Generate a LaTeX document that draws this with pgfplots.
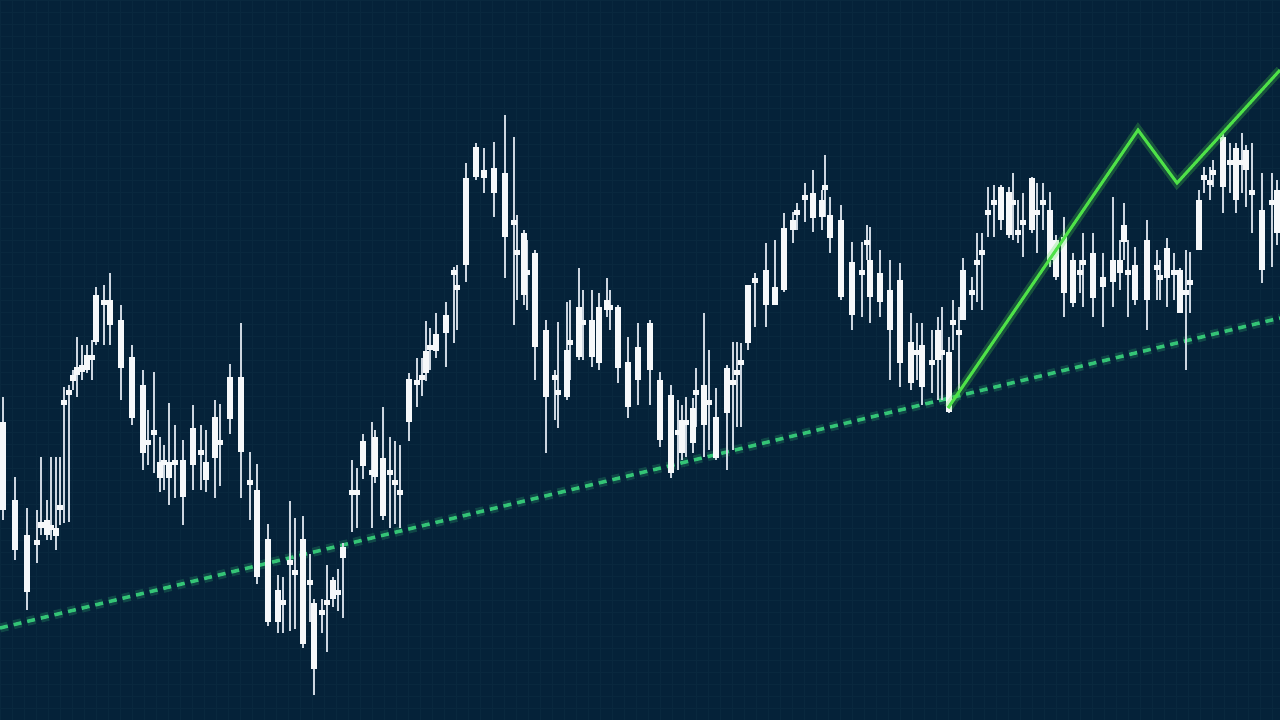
\documentclass[border=0pt]{standalone}
\usepackage{pgfplots}
\usepackage{pgfplotstable}
\pgfplotsset{compat=1.18}
\definecolor{bgcol}{RGB}{5,34,57}
\definecolor{gridcol}{RGB}{9,40,62}
\definecolor{wickcol}{RGB}{205,214,224}
\definecolor{bodycol}{RGB}{246,248,250}
\definecolor{trendcol}{RGB}{52,196,118}
\definecolor{zigcol}{RGB}{78,226,72}
% candles in pixel coordinates: x, wick top, wick bottom, body top, body bottom
\pgfplotstableread{
x hi lo bt bb
3 397 520 422 510
15 477 560 500 550
27 508 610 535 592
37 510 563 540 545
41 457 535 522 528
47 500 540 520 535
51 457 540 525 530
56 457 550 528 536
60 457 525 505 510
64 387 523 400 405
69 385 522 390 395
73 370 390 375 381
77 337 397 367 375
82 345 380 365 372
87 345 373 355 370
92 340 380 355 360
96 287 345 295 342
104 285 345 300 305
110 273 345 300 325
121 305 400 320 368
132 345 425 357 418
143 370 470 385 453
148 410 465 440 445
154 372 473 430 435
160 437 492 462 478
164 445 490 460 465
169 403 505 462 478
175 425 498 460 465
183 440 525 460 497
193 405 490 428 465
201 425 490 450 455
206 430 492 462 480
215 400 498 417 458
220 404 486 440 445
230 364 434 377 419
241 323 498 377 452
250 452 520 480 485
257 464 584 490 577
268 524 626 539 622
278 575 633 590 622
283 577 633 600 605
290 501 631 560 565
295 518 629 570 575
303 516 648 539 644
310 554 622 580 585
314 599 695 603 669
322 599 633 610 615
327 565 652 600 605
333 577 607 580 599
338 569 611 590 595
343 543 618 547 558
352 460 532 490 495
357 468 528 490 495
363 434 479 441 466
372 422 528 470 475
375 430 483 437 477
383 407 520 458 516
390 437 528 470 475
395 441 524 480 485
400 445 528 490 495
409 373 441 379 422
417 358 407 380 385
422 358 396 375 380
426 321 381 351 373
430 328 370 345 350
436 313 358 334 351
446 302 367 315 333
454 267 343 270 275
457 265 330 285 290
466 163 282 178 265
476 143 180 147 177
484 148 193 170 178
494 142 217 168 193
505 115 278 173 237
514 137 325 220 225
517 215 300 250 255
524 230 305 233 295
527 240 310 270 275
535 250 380 253 347
546 320 453 330 397
555 370 420 375 380
558 322 428 390 395
567 302 400 350 397
570 300 380 340 345
579 268 360 307 357
583 290 360 320 325
592 290 367 320 357
599 293 370 307 363
607 278 317 300 310
610 290 330 305 310
618 305 383 307 368
628 337 418 362 407
638 323 405 347 380
650 320 405 323 370
660 372 447 380 440
671 385 478 395 473
678 400 470 430 435
682 405 460 420 453
686 397 457 420 425
693 398 453 408 443
696 368 427 390 395
704 313 457 385 425
709 350 450 400 405
716 388 460 417 458
727 365 470 368 413
733 342 450 380 385
737 342 427 370 375
741 343 427 360 365
748 285 350 285 343
755 273 327 278 283
766 243 327 270 305
775 240 305 287 305
784 213 292 228 290
793 212 243 220 230
797 203 230 210 215
805 183 222 195 200
813 170 232 193 218
822 190 230 200 217
825 155 217 185 190
830 197 253 215 238
841 205 300 220 297
852 242 330 262 315
862 242 317 270 275
867 225 260 240 245
870 227 323 260 297
880 250 317 273 302
890 260 380 290 330
900 263 387 280 363
911 313 390 342 383
917 323 380 350 355
922 323 405 345 387
932 330 393 360 365
938 317 400 330 360
942 307 400 350 355
949 337 413 352 412
953 300 350 320 325
959 307 390 330 335
963 258 320 270 320
972 277 310 290 295
977 233 302 260 265
982 233 310 250 255
988 187 237 210 215
994 185 237 200 205
1001 185 230 187 220
1009 187 238 192 235
1013 173 240 200 205
1018 200 243 230 235
1023 193 257 220 225
1032 177 233 178 230
1037 183 253 210 215
1043 183 230 200 205
1050 192 267 210 260
1056 235 280 240 277
1064 217 317 237 293
1073 253 307 260 303
1080 260 293 270 275
1083 233 307 260 265
1093 233 317 253 298
1103 253 327 277 287
1113 197 307 260 282
1120 240 290 260 273
1124 203 260 225 242
1128 240 317 270 275
1135 247 305 265 300
1147 220 330 240 300
1157 250 300 265 270
1160 260 300 275 280
1167 238 307 248 278
1174 253 300 270 275
1180 268 313 270 313
1186 250 370 290 295
1190 252 313 280 285
1199 190 250 200 250
1204 167 193 175 180
1210 167 200 180 185
1213 160 187 170 175
1223 133 213 137 187
1230 143 193 160 165
1236 143 213 148 200
1242 133 193 160 165
1246 145 207 150 170
1252 143 233 190 195
1262 173 283 210 270
1272 173 267 200 205
1277 180 245 190 233
}\candles
\pgfplotstableread{
x y
0 628
1280 318
}\trend
\pgfplotstableread{
x y
948 408
1138 130
1177 183
1280 70
}\zig
\begin{document}
\begin{tikzpicture}
\begin{axis}[
  width=12.8cm, height=7.2cm, scale only axis,
  xmin=0, xmax=1280, ymin=0, ymax=720, y dir=reverse,
  axis background/.style={fill=bgcol},
  axis line style={draw=none},
  tick style={draw=none},
  xtick={0,12,...,1280}, ytick={0,12,...,720},
  xticklabel=\empty, yticklabel=\empty,
  grid=major, major grid style={draw=gridcol, line width=0.25pt},
  clip=true,
]
% dashed trend line
\addplot[trendcol, opacity=0.22, line width=0.9mm, dash pattern=on 0.8mm off 0.6mm] table[x=x,y=y] {\trend};
\addplot[trendcol, line width=0.35mm, dash pattern=on 0.8mm off 0.6mm] table[x=x,y=y] {\trend};
% wicks
\addplot[draw=none, mark=none,
  error bars/.cd, y dir=plus, y explicit, error mark=none,
  error bar style={line width=0.16mm, draw=wickcol}]
  table[x=x, y=hi, y error plus expr=\thisrow{lo}-\thisrow{hi}] {\candles};
% bodies
\addplot[draw=none, mark=none,
  error bars/.cd, y dir=plus, y explicit, error mark=none,
  error bar style={line width=0.6mm, draw=bodycol}]
  table[x=x, y=bt, y error plus expr=\thisrow{bb}-\thisrow{bt}] {\candles};
% zigzag
\addplot[zigcol, opacity=0.25, line width=0.9mm, line join=miter] table[x=x,y=y] {\zig};
\addplot[zigcol, line width=0.3mm, line join=miter] table[x=x,y=y] {\zig};
\end{axis}
\pgfresetboundingbox
\useasboundingbox (current axis.south west) rectangle (current axis.north east);
\end{tikzpicture}
\end{document}
